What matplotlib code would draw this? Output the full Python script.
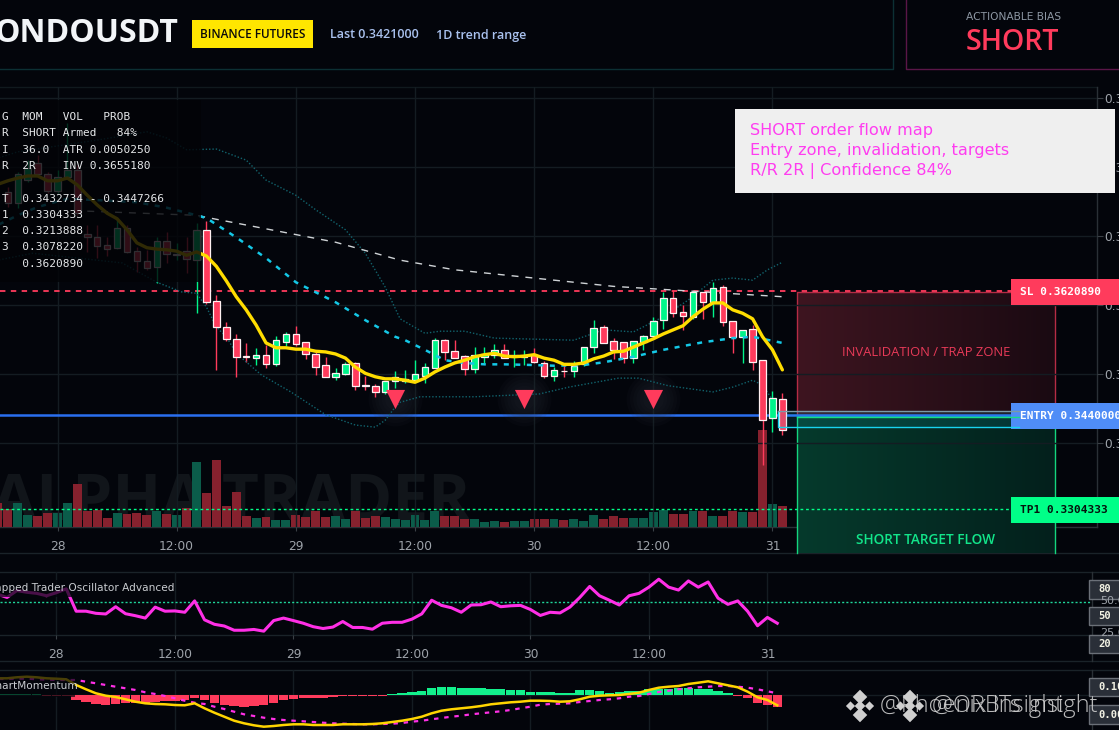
import numpy as np
import matplotlib
matplotlib.use("Agg")
import matplotlib.pyplot as plt
from matplotlib.patches import Rectangle
from matplotlib.colors import LinearSegmentedColormap

# ---------------- data (prices in 1e-4) ----------------
hours = list(range(-5, 74))
opens = [3764,3748,3781,3806,3790,3765,3785,3796,3703,3698,3687,3683,3712,3678,3664,3655,3693,3672,3678,3665,3709,3606,3568,3551,3526,3523,3528,3514,3546,3558,3546,3529,3513,3496,3500,3516,3484,3483,3474,3490,3490,3491,3497,3509,3549,3533,3526,3507,3525,3528,3535,3526,3525,3528,3516,3497,3505,3504,3514,3539,3568,3548,3546,3523,3546,3555,3578,3610,3590,3583,3619,3604,3626,3577,3554,3565,3520,3436,3464]
highs = [3771,3793,3810,3817,3793,3796,3864,3803,3716,3716,3698,3723,3716,3684,3680,3698,3706,3690,3698,3719,3722,3614,3575,3558,3545,3538,3542,3555,3561,3570,3546,3532,3525,3509,3517,3517,3497,3485,3490,3504,3506,3520,3516,3552,3551,3549,3528,3539,3539,3543,3543,3535,3535,3538,3519,3510,3516,3519,3539,3578,3571,3552,3546,3548,3557,3583,3619,3622,3600,3619,3619,3633,3629,3577,3564,3571,3520,3475,3472]
lows = [3742,3741,3778,3787,3762,3762,3784,3730,3677,3668,3671,3681,3675,3648,3651,3632,3661,3665,3646,3588,3601,3506,3548,3496,3517,3513,3509,3512,3541,3541,3522,3499,3496,3491,3499,3477,3477,3467,3471,3480,3487,3488,3487,3509,3520,3523,3499,3501,3516,3523,3523,3510,3513,3516,3494,3490,3496,3496,3512,3530,3545,3522,3516,3516,3535,3555,3565,3583,3564,3580,3580,3583,3570,3530,3516,3506,3368,3416,3412]
closes = [3748,3790,3798,3790,3765,3785,3796,3733,3698,3685,3681,3712,3677,3664,3654,3693,3674,3674,3667,3709,3604,3568,3551,3525,3525,3528,3514,3549,3558,3543,3529,3510,3496,3501,3514,3483,3483,3474,3490,3496,3493,3500,3510,3549,3532,3523,3507,3528,3529,3535,3523,3528,3526,3517,3497,3506,3504,3512,3539,3567,3545,3535,3523,3548,3555,3577,3610,3588,3584,3619,3604,3625,3575,3554,3564,3517,3433,3465,3419]

vol_hours = list(range(-6, 74))
volumes = [24,18,24,12,11,14,14,24,43,16,17,9,14,13,14,12,16,13,12,19,65,34,67,21,35,11,9,10,7,7,12,10,16,10,11,8,16,9,11,10,8,7,12,7,16,11,11,8,8,5,6,5,6,6,8,8,8,7,8,6,12,8,11,9,9,9,15,17,13,13,16,16,11,11,16,15,15,97,23,21]
vol_up = [0,0,1,1,0,0,1,1,0,0,0,0,1,0,0,0,1,0,1,0,1,0,0,0,0,0,1,0,1,1,0,0,0,0,1,1,0,0,0,1,1,1,1,1,1,0,0,0,1,1,1,0,1,1,0,0,1,0,1,1,1,0,0,0,1,1,1,1,0,0,1,0,1,0,0,1,0,0,1,0]

ema_hours = list(range(-6, 74))
ema = [3775,3780,3784,3787,3787,3780,3780,3784,3774,3759,3745,3733,3725,3709,3690,3683,3681,3680,3678,3672,3677,3671,3656,3635,3612,3593,3571,3545,3538,3538,3536,3536,3533,3532,3529,3523,3510,3501,3496,3493,3493,3491,3488,3494,3503,3510,3516,3520,3525,3528,3530,3526,3525,3526,3528,3523,3520,3514,3514,3516,3522,3526,3532,3533,3539,3545,3551,3558,3564,3570,3583,3594,3603,3603,3593,3588,3580,3554,3535,3506]

basis_hours = [-6,-4,-2,1,4,8,11,14,15,18,21,24,28,31,34,35,37,39,41,43,45,48,50,53,55,58,61,65,68,70,73]
basis = [3716,3730,3742,3754,3752,3749,3741,3730,3726,3698,3668,3633,3604,3578,3554,3549,3535,3520,3516,3514,3514,3513,3512,3513,3517,3525,3535,3546,3552,3554,3545]

upper_hours = [-6,-4,4,9,11,13,16,19,21,24,26,29,31,33,34.5,37,38.5,41,44,52,55,58,61,63.5,66,68,70,71.5,73]
upper = [3813,3822,3839,3851,3842,3825,3826,3810,3781,3759,3738,3709,3675,3626,3580,3559,3562,3562,3552,3549,3564,3561,3583,3607,3636,3639,3636,3651,3662]

lower_hours = [-6,-2.5,6.5,10,12.5,14,15,16,17,18,20.5,23.5,27,30,32,33,34,34.5,36.5,42,48.5,51.5,56.5,58.5,61.5,66,68,70,71,72.5]
lower = [3665,3675,3661,3633,3619,3617,3597,3568,3554,3530,3499,3474,3441,3426,3423,3433,3452,3459,3467,3467,3471,3481,3494,3494,3483,3474,3481,3491,3484,3452]

slope_hours = [3,14,15,28,34.5,40,56,73]
slope = [3736,3730,3727,3691,3665,3651,3627,3612]

signal_hours = [34,47,60]
signal_price = [3464,3464,3464]

osc_hours = list(range(-6, 74))
osc = [56,53.4,58.6,57.3,56.5,54.7,57,59.9,43,43,41.4,40.9,46.4,41.1,39.6,37.8,46.1,43,43.2,42.2,50.8,36.5,33.1,31.8,28.6,28.6,29.2,27.9,35.9,37.8,35.9,33.9,31.3,29.9,31,35.2,30.7,30.7,29.4,33.9,34.6,34.6,37,41,51.3,47.4,45.6,42.2,47.7,47.9,50,46.4,47.1,47.4,44.3,39.8,42.2,41.7,46.1,53.4,61.7,54.7,51.3,47.7,54.7,56.5,61.2,67.2,61.2,59,65.9,61.2,65.1,52.9,48.2,50.8,42.9,32,38.3,33.9]

hist_hours = list(range(-6, 74))
hist = [1,1,1,1,1,-1,-1,-1,-5,-7,-9,-10,-9,-8,-8,-8,-7,-6,-6,-5,-3,-5,-8,-10,-11,-12,-11,-10,-8,-5,-4,-3,-3,-3,-2,-1,-1,-1,-1,-0.5,1,2,3,4,7,8,8,7,7,7,6,6,5,5,3,3,3,2,2,5,5,4,2,3,4,4,6,6,6,7,7,6,6,4,2,-1,-3,-8,-10,-12]
mom_fast = [16.7,16.7,17.7,18.3,17.7,16.7,16.3,15.7,10,5.7,1.7,-0.7,-2,-4.3,-6.7,-8.3,-9,-9.3,-10,-10.3,-8.3,-13.3,-17.7,-21.7,-25.7,-28.3,-30.3,-31.7,-31,-30,-29.3,-29.3,-30,-30,-30,-29.3,-29.3,-29.3,-29,-28.3,-27,-25.7,-24,-21.7,-18.3,-15.7,-14.3,-13.3,-12.3,-11,-9.3,-8.3,-7.3,-6.7,-5.7,-5.7,-6,-6.7,-6.3,-4.3,-1.7,-0.7,-0.3,0,1,2.3,5,7.3,8.3,9,11,12.3,13.7,11.7,9.7,7.7,3.3,-2.3,-5,-10.3]
mom_slow = [16,16,16.3,16.3,15.7,15.3,15,15,15,13.3,11.7,10,8.3,6.7,5,2.7,1,-1,-3.3,-5.7,-7.7,-9,-11.7,-14,-16.7,-19.3,-21,-22.7,-24,-25,-25.7,-26.3,-27,-27.7,-28.3,-28.7,-29,-29.3,-29.3,-29,-28.7,-28,-26.7,-25.7,-24.3,-23,-21.7,-20.7,-19.3,-18.3,-17.3,-16.3,-15,-13.3,-11.7,-9.7,-9,-8.7,-8.3,-7,-6,-5,-4.3,-3.3,-1.7,-1,1,3,4.3,5.7,6.7,7.7,8.3,9,9,8.3,7.3,5.7,3.7,1.7]

tick_hours = [0,12,24,36,48,60,72]
tick_labels = ["28","12:00","29","12:00","30","12:00","31"]
price_ticks = [0.39,0.38,0.37,0.36,0.35,0.34]
sl_price, entry_price, tp1_price = 0.3620890, 0.3440000, 0.3304333

panel_lines = [
    "G  MOM   VOL   PROB",
    "R  SHORT Armed   84%",
    "I  36.0  ATR 0.0050250",
    "R  2R    INV 0.3655180",
    "",
    "T  0.3432734 - 0.3447266",
    "1  0.3304333",
    "2  0.3213888",
    "3  0.3078220",
    "   0.3620890",
]
# -------------------------------------------------------------------------------

BG = "#03050b"; RED = "#ff3b5c"; GREEN = "#00f58a"; GRID = "#141c22"; TXT = "#9ea3aa"
MONO = "DejaVu Sans Mono"; SANS = "Open Sans"
W, H = 1119, 730
fig = plt.figure(figsize=(W/100, H/100), dpi=100, facecolor=BG)

def rect(x0, y0, x1, y1):
    return [x0/W, 1-y1/H, (x1-x0)/W, (y1-y0)/H]

def chrome(z):
    a = fig.add_axes([0, 0, 1, 1], zorder=z)
    a.set_xlim(0, W); a.set_ylim(H, 0); a.axis("off"); a.patch.set_alpha(0)
    return a

bg = chrome(0)
top = chrome(10)

def hx(px, x0=57.5, s=9.93):
    return (px-x0)/s
def py(y):
    return 0.34+(443-y)/6900

# ---- header ----
bg.plot([0, 893, 893], [69, 69, 0], color="#0c3034", lw=1)
bg.plot([906, 906, 1119], [0, 69, 69], color="#5a1648", lw=1)
bg.text(-6, 34, "ONDOUSDT", color="#f2f5f8", fontsize=23, fontweight="bold", family=SANS, va="center", ha="left")
bg.add_patch(Rectangle((192, 20), 121, 28, color="#ffe600", lw=0))
bg.text(252.5, 34, "BINANCE FUTURES", color="#0a0a0a", fontsize=8.5, fontweight="semibold", family=SANS, ha="center", va="center")
bg.text(330, 35, "Last 0.3421000", color="#a9c1ee", fontsize=9, fontweight="semibold", family=SANS, va="center")
bg.text(436, 35, "1D trend range", color="#a9c1ee", fontsize=9, fontweight="semibold", family=SANS, va="center")
bg.text(966, 17, "ACTIONABLE BIAS", color="#8d97a3", fontsize=7.7, family="DejaVu Sans", va="center")
bg.text(966, 42, "SHORT", color=RED, fontsize=20.5, fontweight="semibold", family=SANS, va="center")

# ---- watermark ----
bg.text(-8, 503, "ALPHA TRADER", color="#11151a", fontsize=46, fontweight="bold", family=SANS, va="center", ha="left")

# ---- zones ----
def grad(x0, y0, x1, y1, c0, c1, z):
    cm = LinearSegmentedColormap.from_list("g", [c0, c1])
    bg.imshow(np.linspace(0, 1, 256)[None, :], extent=(x0, x1, y1, y0), cmap=cm, aspect="auto", zorder=z)
grad(797, 292, 1055, 415, "#3e1520", "#1a0a12", 1)
grad(797, 416, 1055, 553, "#063a2c", "#03201c", 1)
bg.set_xlim(0, W); bg.set_ylim(H, 0)
bg.plot([797, 797, 1055, 1055], [415, 292, 292, 415], color="#b52c45", lw=1, zorder=2)
bg.plot([797, 797, 1055, 1055], [553, 416, 416, 553], color="#14d67e", lw=1, zorder=2)
bg.text(926, 353, "INVALIDATION / TRAP ZONE", color="#e83a58", fontsize=9.4, family=SANS, ha="center", va="center", zorder=3)
bg.text(926, 540, "SHORT TARGET FLOW", color="#12e58a", fontsize=9.8, fontweight="semibold", family=SANS, ha="center", va="center", zorder=3)
for yy in [553, 572, 635, 661, 670]:
    bg.plot([0, W], [yy, yy], color="#1a2329", lw=1, zorder=0.5)
bg.plot([0, 1097], [87, 87], color="#10191e", lw=1, zorder=0.5)
bg.plot([1097, 1097], [87, 527], color="#2a3036", lw=1, zorder=0.5)
bg.plot([0, 1097], [527, 527], color="#2a3036", lw=1, zorder=0.5)
bg.plot([1092, 1092], [572, 661], color="#2a3036", lw=1, zorder=0.5)
bg.plot([1092, 1092], [670, 730], color="#2a3036", lw=1, zorder=0.5)

# ---- volume pane (same rectangle as price pane) ----
xl_main = (hx(0), hx(1097))
axv = fig.add_axes(rect(0, 87, 1097, 527), zorder=1)
axv.set_xlim(*xl_main); axv.set_ylim(0, 440); axv.axis("off"); axv.patch.set_alpha(0)
axv.bar(vol_hours, volumes, width=0.9, color=["#0b5c4a" if u else "#86212e" for u in vol_up], lw=0)

# ---- price pane ----
ax = fig.add_axes(rect(0, 87, 1097, 527), zorder=2)
ax.patch.set_alpha(0)
ax.set_xlim(*xl_main); ax.set_ylim(py(527), py(87))
for sp in ax.spines.values():
    sp.set_visible(False)
ax.yaxis.tick_right()
ax.set_yticks(price_ticks); ax.set_yticklabels(["%.2f" % p for p in price_ticks])
ax.set_xticks(tick_hours); ax.set_xticklabels(tick_labels)
ax.tick_params(axis="x", colors=TXT, length=3, labelsize=8.8, pad=6, color="#3a4046")
ax.tick_params(axis="y", colors=TXT, length=4, labelsize=8.8, pad=1, color="#3a4046")
ax.grid(True, color=GRID, lw=1); ax.set_axisbelow(True)

o, h, l, c = [np.array(a)/1e4 for a in (opens, highs, lows, closes)]
hrs = np.array(hours)
up = c >= o
cols = np.where(up, GREEN, RED)
ax.vlines(hrs, l, h, colors=cols, lw=1, zorder=3)
ax.bar(hrs, np.maximum(np.abs(c-o), 0.00004), bottom=np.minimum(o, c), width=0.66,
       color=cols, edgecolor="#fff0f2", lw=0.9, zorder=4)
ax.plot(upper_hours, np.array(upper)/1e4, color="#11626c", lw=1, ls=(0, (1, 1.4)), zorder=3)
ax.plot(lower_hours, np.array(lower)/1e4, color="#11626c", lw=1, ls=(0, (1, 1.4)), zorder=3)
ax.plot(slope_hours, np.array(slope)/1e4, color="#cfd3d6", lw=1, ls=(0, (5, 5)), zorder=3)
ax.plot(basis_hours, np.array(basis)/1e4, color="#14c8e6", lw=1.8, ls=(0, (2, 2.6)), zorder=5)
ax.plot(ema_hours, np.array(ema)/1e4, color="#ffdd00", lw=2.4, zorder=6, solid_capstyle="round")
ax.axhline(sl_price, xmax=1011/1097, color=RED, lw=1.3, ls=(0, (3, 3)), zorder=2)
ax.axhline(entry_price, xmax=1011/1097, color="#2a6ff0", lw=1.8, zorder=2)
ax.axhline(tp1_price, xmax=1011/1097, color="#00ff88", lw=1, ls=(0, (2, 2)), zorder=2)
sp_ = np.array(signal_price)/1e4
for s_ in [1500, 1150, 850, 600, 380, 220]:
    ax.scatter(signal_hours, sp_, s=s_, color="#2a2f38", alpha=0.09, lw=0, zorder=2)
ax.scatter(signal_hours, sp_, s=190, marker="v", color=RED, lw=0, zorder=7)

# ---- oscillator pane ----
xl_sub = (hx(0, 56.4, 9.875), hx(1092, 56.4, 9.875))
axo = fig.add_axes(rect(0, 572, 1092, 635), zorder=2)
axo.patch.set_alpha(0)
axo.set_xlim(*xl_sub); axo.set_ylim(25, 50+29/1.28)
for sp in axo.spines.values():
    sp.set_visible(False)
axo.set_xticks(tick_hours); axo.set_xticklabels(tick_labels)
axo.set_yticks([])
axo.tick_params(axis="x", colors=TXT, length=3, labelsize=8.8, pad=6, color="#3a4046")
axo.grid(True, axis="x", color=GRID, lw=1); axo.set_axisbelow(True)
axo.axhline(50, color="#1fd69a", lw=1, ls=(0, (1.5, 1.5)))
axo.plot(osc_hours, osc, color="#ff2fe6", lw=2.2, zorder=3)

# ---- momentum pane ----
axm = fig.add_axes(rect(0, 670, 1092, 730), zorder=2)
axm.patch.set_alpha(0)
axm.set_xlim(*xl_sub); axm.set_ylim(-35, 25)
for sp in axm.spines.values():
    sp.set_visible(False)
axm.set_xticks(tick_hours); axm.set_xticklabels([])
axm.set_yticks([0]); axm.set_yticklabels([])
axm.tick_params(length=0)
axm.grid(True, color=GRID, lw=1); axm.set_axisbelow(True)
hv = np.array(hist)
axm.bar(hist_hours, hv, width=0.95, color=np.where(hv >= 0, "#12f08c", RED), lw=0, zorder=2)
axm.plot(hist_hours, mom_slow, color="#ff2fe6", lw=1.6, ls=(0, (2, 2.6)), zorder=3)
axm.plot(hist_hours, mom_fast, color="#ffd500", lw=1.8, zorder=4)

# ---- top layer: info panel, note box, labels ----
top.add_patch(Rectangle((0, 100), 201, 182, color="#020307", alpha=0.82, lw=0))
for i, line in enumerate(panel_lines):
    if line:
        top.text(1.5, 117+i*16.3, line, color="#e6e8ea", fontsize=8, family=MONO, va="center", ha="left")

top.add_patch(Rectangle((735, 109), 380, 84, color="#efefef", lw=0))
for yy, t in zip([130, 151, 171], ["SHORT order flow map", "Entry zone, invalidation, targets", "R/R 2R | Confidence 84%"]):
    top.text(750, yy, t, color="#ff3df0", fontsize=11.6, family="DejaVu Sans", va="center")

top.add_patch(Rectangle((778, 411), 241, 16, facecolor="#12c8e0", alpha=0.12, edgecolor="none"))
top.plot([778, 778, 1019], [411, 427, 427], color="#19d3f0", lw=1)
top.plot([778, 1019], [411, 411], color="#7a9aa8", lw=1)
top.plot([797, 1019], [416.5, 416.5], color="#14e085", lw=1)

for y0, y1, col, tc, t in [(279, 305, RED, "#ffffff", "SL 0.3620890"),
                           (403, 429, "#4f8df7", "#ffffff", "ENTRY 0.3440000"),
                           (497, 523, "#00ff88", "#05130d", "TP1 0.3304333")]:
    top.add_patch(Rectangle((1011, y0), 108, y1-y0, color=col, lw=0))
    top.text(1020, (y0+y1)/2, t, color=tc, fontsize=8, fontweight="bold", family=MONO, va="center")

# pane captions
top.add_patch(Rectangle((0, 580), 172, 17, color="#03050b", alpha=0.72, lw=0))
top.text(-14, 588, "Trapped Trader Oscillator Advanced", color="#c9ccd0", fontsize=7.6, family="DejaVu Sans", va="center")
top.add_patch(Rectangle((0, 673), 75, 24, color="#03050b", alpha=0.72, lw=0))
top.text(-15, 686, "SmartMomentum", color="#c9ccd0", fontsize=7.6, family="DejaVu Sans", va="center")

# axis faint ticks and value boxes
for yy, t in [(601, "50.0"), (633, "25.0")]:
    top.text(1100, yy, t, color=TXT, fontsize=8, family="DejaVu Sans", va="center")
for y0, y1, t in [(580, 599, "80"), (607, 625, "50"), (635, 653, "20"), (678, 696, "0.10"), (705, 724, "0.00")]:
    top.add_patch(Rectangle((1088.5, y0), 40, y1-y0, facecolor="#2a2f38", edgecolor="#6b7078", lw=1))
    top.text(1098, (y0+y1)/2, t, color="#f2f2e4", fontsize=7.6, fontweight="bold", family=MONO, va="center")

# site mark (two overlapping)
for x0, x1, txt in [(860, 880, "@Phoenix Insight"), (910, 932, "@ORBTs Insight")]:
    top.scatter([x0, x0-9.5, x0+9.5, x0, x0], [706, 706, 706, 697, 715], marker="D",
                s=[30, 22, 22, 55, 55], color="#cfcfcf", lw=0)
    top.text(x1, 706, txt, color="#cfcfcf", fontsize=17, family=SANS, fontweight="light", va="center", alpha=0.9)

fig.savefig("out.png", dpi=100, facecolor=BG)
